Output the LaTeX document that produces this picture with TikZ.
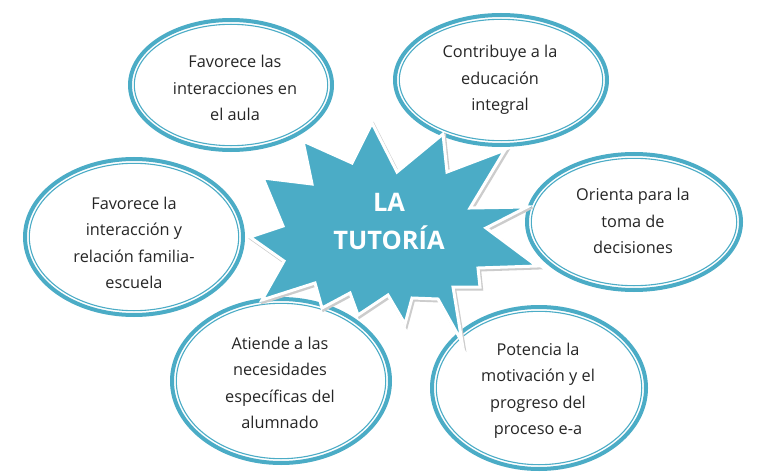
\documentclass[tikz,border=0pt]{standalone}
\usepackage{fontspec}
\setmainfont{Open Sans}
\usetikzlibrary{shapes.geometric}
\definecolor{tealfive}{HTML}{4BACC6}
\definecolor{txtgrey}{HTML}{262626}
\begin{document}
\begin{tikzpicture}[x=1pt,y=-1pt,
  ring/.style={ellipse, draw=tealfive, line width=4pt, fill=white, inner sep=0pt},
  innerring/.style={draw=tealfive, line width=1.1pt},
  bubbletext/.style={align=center, text=txtgrey, inner sep=0pt, font=\fontsize{16.3}{26.5}\selectfont},
  titletext/.style={align=center, text=white, inner sep=0pt, font=\fontsize{25.5}{38}\selectfont\bfseries},
  starfill/.style={fill=tealfive, draw=white, line width=3pt, line join=miter},
  starshadow/.style={draw=black!20, line width=3pt, line join=miter}]
\useasboundingbox[fill=white] (0,0) rectangle (768,476);

% bubbles
\node[ring, minimum width=202, minimum height=130] (e1) at (231,85) {};
\draw[innerring] (e1.center) ellipse [x radius=96.7pt, y radius=60.7pt];
\node[ring, minimum width=212, minimum height=130] (e2) at (501,80) {};
\draw[innerring] (e2.center) ellipse [x radius=101.7pt, y radius=60.7pt];
\node[ring, minimum width=214, minimum height=136] (e3) at (634,222) {};
\draw[innerring] (e3.center) ellipse [x radius=102.7pt, y radius=63.7pt];
\node[ring, minimum width=218, minimum height=156] (e4) at (134,237) {};
\draw[innerring] (e4.center) ellipse [x radius=104.7pt, y radius=73.7pt];
\node[ring, minimum width=218, minimum height=164] (e5) at (281,381) {};
\draw[innerring] (e5.center) ellipse [x radius=104.7pt, y radius=77.7pt];
\node[ring, minimum width=214, minimum height=162] (e6) at (539,388) {};
\draw[innerring] (e6.center) ellipse [x radius=102.7pt, y radius=76.7pt];

\node[bubbletext] (t1) at (235,88) {Favorece las\\interacciones en\\el aula};
\node[bubbletext] (t2) at (500,80) {Contribuye a la\\educación\\integral};
\node[bubbletext] (t3) at (633,221) {Orienta para la\\toma de\\decisiones};
\node[bubbletext] (t4) at (134,243) {Favorece la\\interacción y\\relación familia-\\escuela};
\node[bubbletext] (t5) at (280,383) {Atiende a las\\necesidades\\específicas del\\alumnado};
\node[bubbletext] (t6) at (538,391) {Potencia la\\motivación y el\\progreso del\\proceso e-a};

% star shadow
\begin{scope}[shift={(1.6,2)}]
\draw[starshadow] (372,123) -- (397,172) -- (443,134) -- (447,172) -- (505,150) -- (470,208)
  -- (527,207) -- (486,228) -- (537,266) -- (478,268) -- (480,287) -- (453,287)
  -- (462,342) -- (438,299) -- (412,298) -- (405,324) -- (388,295) -- (358,315)
  -- (350,293) -- (322,308) -- (315,283) -- (262,300) -- (284,261) -- (250,237)
  -- (283,226) -- (263,178) -- (312,184) -- (303,141) -- (352,163) -- cycle;
\end{scope}
% star
\draw[starfill] (372,123) -- (397,172) -- (443,134) -- (447,172) -- (505,150) -- (470,208)
  -- (527,207) -- (486,228) -- (537,266) -- (478,268) -- (480,287) -- (453,287)
  -- (462,342) -- (438,299) -- (412,298) -- (405,324) -- (388,295) -- (358,315)
  -- (350,293) -- (322,308) -- (315,283) -- (262,300) -- (284,261) -- (250,237)
  -- (283,226) -- (263,178) -- (312,184) -- (303,141) -- (352,163) -- cycle;
\node[titletext] (c) at (389,221) {LA\\TUTORÍA};
\end{tikzpicture}
\end{document}
